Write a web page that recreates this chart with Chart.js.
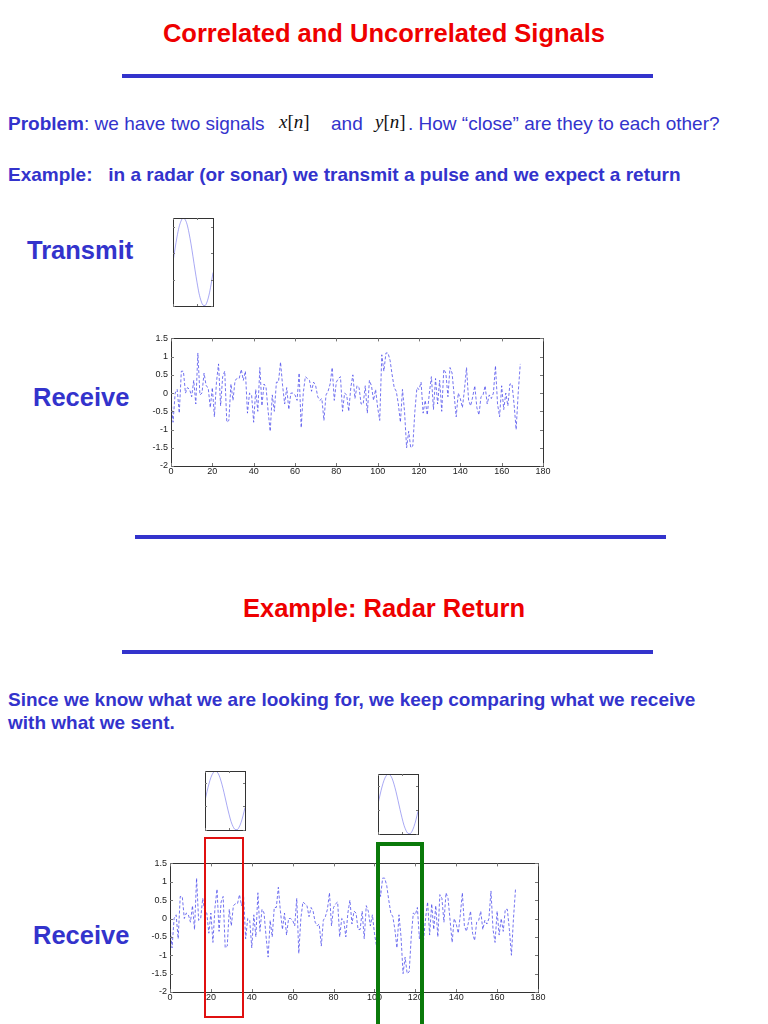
<!DOCTYPE html>
<html>
<head>
<meta charset="utf-8">
<script src="https://cdn.jsdelivr.net/npm/chart.js@4.4.1/dist/chart.umd.min.js"></script>
<style>
  html, body { margin: 0; padding: 0; background: #fff; }
  #slide { position: relative; width: 768px; height: 1024px; overflow: hidden; font-family: "Liberation Sans", Arial, sans-serif; }
  .t { position: absolute; white-space: nowrap; color: #3333cc; }
  .red { color: #ee0000; font-weight: bold; }
  .b { font-weight: bold; }
  .rule { position: absolute; height: 4px; background: #3333cc; }
  .math { font-family: "Liberation Serif", "Times New Roman", serif; color: #111; }
  canvas { position: absolute; }
  .box { position: absolute; box-sizing: border-box; }
</style>
</head>
<body>
<div id="slide">
  <div class="t red" style="left:0;width:768px;text-align:center;top:19px;font-size:25.5px;line-height:28px;">Correlated and Uncorrelated Signals</div>
  <div class="rule" style="left:122px;width:531px;top:74px;"></div>

  <div class="t" style="left:8px;top:113px;font-size:19px;line-height:22px;"><span class="b">Problem</span>: we have two signals</div>
  <div class="t math" style="left:279px;top:111px;font-size:19px;line-height:22px;"><i>x</i>[<i>n</i>]</div>
  <div class="t" style="left:331px;top:113px;font-size:19px;line-height:22px;">and</div>
  <div class="t math" style="left:375px;top:111px;font-size:19px;line-height:22px;"><i>y</i>[<i>n</i>]</div>
  <div class="t" style="left:408px;top:113px;font-size:19px;line-height:22px;">. How “close” are they to each other?</div>

  <div class="t b" style="left:8px;top:164px;font-size:19px;line-height:22px;">Example:&nbsp;&nbsp; in a radar (or sonar) we transmit a pulse and we expect a return</div>

  <div class="t b" style="left:27px;top:236px;font-size:25.5px;line-height:28px;">Transmit</div>
  <div class="t b" style="left:33px;top:383px;font-size:25.5px;line-height:28px;">Receive</div>

  <canvas id="pulseTop" width="42" height="90" style="left:172px;top:217px;"></canvas>
  <canvas id="receiveTop" width="412" height="150" style="left:140px;top:330px;"></canvas>

  <div class="rule" style="left:135px;width:531px;top:535px;"></div>

  <div class="t red" style="left:0;width:768px;text-align:center;top:594px;font-size:25.5px;line-height:28px;">Example: Radar Return</div>
  <div class="rule" style="left:122px;width:531px;top:650px;"></div>

  <div class="t b" style="left:8px;top:688px;font-size:19px;line-height:23px;">Since we know what we are looking for, we keep comparing what we receive<br>with what we sent.</div>

  <canvas id="pulseA" width="42" height="61" style="left:204px;top:770px;"></canvas>
  <canvas id="pulseB" width="42" height="62" style="left:377px;top:773px;"></canvas>
  <canvas id="receiveBottom" width="408" height="151" style="left:139px;top:855px;"></canvas>

  <div class="box" style="left:204px;top:837px;width:40px;height:181px;border:2px solid #e01010;"></div>
  <div class="box" style="left:376px;top:842px;width:48px;height:190px;border:4px solid #0a7a0a;"></div>

  <div class="t b" style="left:33px;top:921px;font-size:25.5px;line-height:28px;">Receive</div>
</div>

<script>
// received signal y[n], n = 0..169
const received = [
  -0.2, -0.8, 0.0, 0.1, -0.55, 0.6, 0.6, 0.0, 0.15, 0.1,
  -0.1, 0.35, -0.3, 1.1, -0.05, 0.0, 0.55, 0.2, 0.15, -0.4,
  0.15, -0.65, 0.3, 0.8, -0.35, 0.45, 0.6, -0.8, -0.75, 0.25,
  -0.2, 0.35, 0.4, 0.4, 0.65, 0.35, 0.6, -0.55, 0.0, -0.05,
  -0.8, 0.1, -0.5, 0.7, -0.35, 0.25, 0.15, -0.5, -1.05, -0.05,
  -0.5, 0.3, 0.3, 0.85, 0.2, -0.3, 0.15, -0.45, 0.0, 0.0,
  -0.05, -0.2, 0.55, -0.95, 0.0, 0.45, 0.4, 0.35, 0.05, 0.3,
  0.2, -0.1, -0.2, -0.15, -0.75, -0.05, 0.05, 0.25, 0.7, -0.2,
  0.3, 0.4, 0.45, -0.5, 0.0, -0.05, -0.5, 0.15, 0.5, -0.15,
  0.2, 0.15, -0.3, -0.3, 0.2, -0.55, 0.35, 0.2, -0.2, 0.1,
  -0.4, -0.75, 1.05, 0.6, 1.1, 1.1, 0.9, 0.5, 0.15, 0.05,
  -0.3, -0.8, 0.1, -0.5, -1.5, -1.05, -1.5, -1.45, -0.5, 0.15,
  0.1, 0.3, -0.55, -0.2, -0.6, 0.0, 0.45, -0.45, 0.4, -0.3,
  0.35, -0.5, 0.65, 0.55, -0.1, 0.7, 0.55, -0.05, -0.65, 0.0,
  -0.15, -0.4, 0.1, 0.7, -0.2, -0.35, -0.1, 0.2, -0.4, -0.6,
  -0.1, -0.05, 0.2, -0.3, -0.05, -0.15, 0.0, 0.75, -0.3, -0.65,
  0.2, -0.45, 0.0, -0.35, 0.25, 0.25, -0.3, -1.0, 0.0, 0.8
];

// transmitted pulse x[n], n = 0..20
const pulse = [
  0.0, 0.3, 0.57, 0.79, 0.93, 1.0, 0.97, 0.86, 0.66, 0.41,
  0.12, -0.18, -0.46, -0.71, -0.88, -0.98, -0.99, -0.91, -0.75, -0.52, -0.24
];

const recvX = { min: 0, max: 180, step: 20 };
const recvY = { min: -2, max: 1.5, step: 0.5 };
const pulseX = { min: 0, max: 20, step: 2 };
const pulseY = { min: -1, max: 1, step: 0.2 };

function toPoints(arr) {
    return arr.map((v, i) => ({ x: i, y: v }));
}

// matlab style axes box with inward ticks
const axesBox = {
    id: 'axesBox',
    afterDraw(chart) {
        const ctx = chart.ctx;
        const a = chart.chartArea;
        const len = chart.options.plugins.axesBox.tick;
        ctx.save();
        ctx.strokeStyle = '#333';
        ctx.lineWidth = 1;
        ctx.strokeRect(Math.round(a.left) + 0.5, Math.round(a.top) + 0.5, Math.round(a.right - a.left), Math.round(a.bottom - a.top));
        ctx.strokeStyle = '#777';
        ctx.beginPath();
        chart.scales.x.ticks.forEach(t => {
            const px = Math.round(chart.scales.x.getPixelForValue(t.value)) + 0.5;
            ctx.moveTo(px, a.bottom); ctx.lineTo(px, a.bottom - len);
            ctx.moveTo(px, a.top); ctx.lineTo(px, a.top + len);
        });
        chart.scales.y.ticks.forEach(t => {
            const py = Math.round(chart.scales.y.getPixelForValue(t.value)) + 0.5;
            ctx.moveTo(a.left, py); ctx.lineTo(a.left + len, py);
            ctx.moveTo(a.right, py); ctx.lineTo(a.right - len, py);
        });
        ctx.stroke();
        ctx.restore();
    }
};

const tickFont = { size: 9, family: 'Liberation Sans' };

function receiveChart(id) {
    const ctx = document.getElementById(id).getContext('2d');
    return new Chart(ctx, {
        type: 'line',
        data: {
            datasets: [{
                data: toPoints(received),
                borderColor: 'rgba(70, 70, 235, 0.75)',
                borderWidth: 1,
                borderDash: [3, 2],
                pointRadius: 0,
                tension: 0
            }]
        },
        options: {
            responsive: false,
            animation: false,
            layout: { padding: { top: 8, right: 9, left: 0, bottom: 0 } },
            plugins: { legend: { display: false }, tooltip: { enabled: false }, axesBox: { tick: 3 } },
            scales: {
                x: {
                    type: 'linear',
                    min: recvX.min, max: recvX.max,
                    ticks: { stepSize: recvX.step, color: '#222', font: tickFont, padding: 0, maxRotation: 0, callback: v => String(v) },
                    grid: { display: false, drawTicks: false },
                    border: { display: false },
                    afterFit: s => { s.height = 14; }
                },
                y: {
                    min: recvY.min, max: recvY.max,
                    ticks: { stepSize: recvY.step, color: '#222', font: tickFont, padding: 3, callback: v => String(v) },
                    grid: { display: false, drawTicks: false },
                    border: { display: false },
                    afterFit: s => { s.width = 31; }
                }
            }
        },
        plugins: [axesBox]
    });
}

function pulseChart(id) {
    const ctx = document.getElementById(id).getContext('2d');
    return new Chart(ctx, {
        type: 'line',
        data: {
            datasets: [{
                data: toPoints(pulse),
                borderColor: 'rgba(100, 100, 235, 0.7)',
                borderWidth: 0.8,
                pointRadius: 0,
                cubicInterpolationMode: 'monotone'
            }]
        },
        options: {
            responsive: false,
            animation: false,
            layout: { padding: 1 },
            plugins: { legend: { display: false }, tooltip: { enabled: false }, axesBox: { tick: 2 } },
            scales: {
                x: { type: 'linear', display: false, min: pulseX.min, max: pulseX.max, ticks: { stepSize: pulseX.step } },
                y: { display: false, min: pulseY.min, max: pulseY.max, ticks: { stepSize: pulseY.step } }
            }
        },
        plugins: [axesBox]
    });
}

pulseChart('pulseTop');
receiveChart('receiveTop');
pulseChart('pulseA');
pulseChart('pulseB');
receiveChart('receiveBottom');
</script>
</body>
</html>
